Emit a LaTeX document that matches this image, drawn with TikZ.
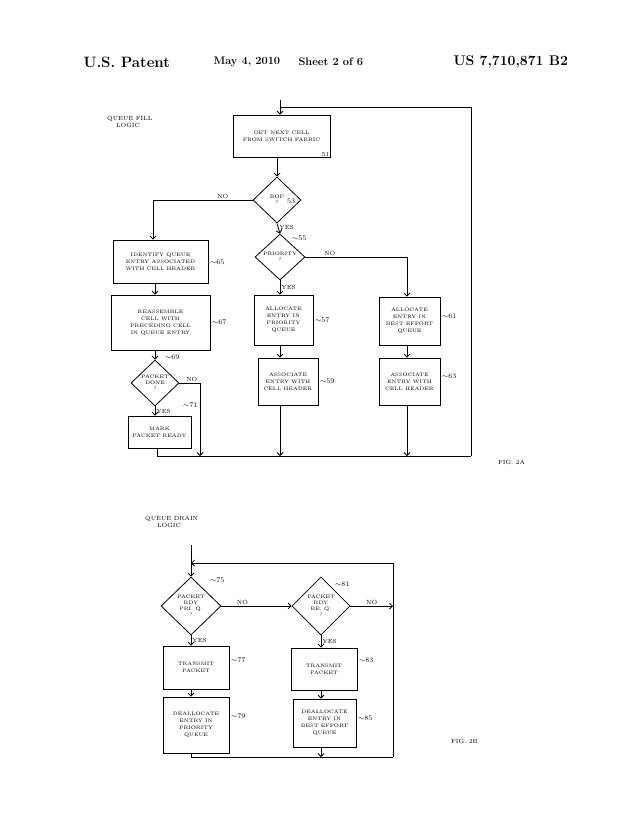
\documentclass[tikz,border=0pt]{standalone}
\usetikzlibrary{shapes.geometric,arrows.meta}
\begin{document}
\begin{tikzpicture}[x=1pt,y=-1pt,
  box/.style={draw,thick,inner sep=1pt,align=center,font=\fontsize{5}{7}\selectfont},
  dia/.style={draw,thick,diamond,inner sep=0pt,align=center,font=\fontsize{5}{6}\selectfont},
  lbl/.style={font=\fontsize{6}{7}\selectfont,inner sep=1pt},
  ref/.style={font=\fontsize{7}{8}\selectfont,inner sep=0pt,anchor=west},
  arr/.style={thick,-{Straight Barb[length=3pt]}},
  ln/.style={thick}]
\useasboundingbox (0,0) rectangle (638,822);
% header
\node[font=\bfseries\fontsize{15}{16}\selectfont,anchor=west] (h1) at (80,62) {U.S. Patent};
\node[font=\bfseries\fontsize{11}{12}\selectfont,anchor=west] (h2) at (210,62) {May 4, 2010};
\node[font=\bfseries\fontsize{11}{12}\selectfont,anchor=west] (h3) at (295,62) {Sheet 2 of 6};
\node[font=\bfseries\fontsize{14}{15}\selectfont,anchor=west] (h4) at (450,62) {US 7,710,871 B2};
% ---------- FIG 2A ----------
\node[lbl,anchor=west,align=left] (t1) at (106,122) {QUEUE FILL\\\hspace{1.5em}LOGIC};
\node[box,minimum width=97,minimum height=42] (b51) at (281.5,136) {GET NEXT CELL\\FROM SWITCH FABRIC};
\node[lbl,anchor=south east] (n51) at (b51.south east) {51};
\node[dia,minimum width=48,minimum height=46] (d53) at (277,200) {BOP\\?};
\node[ref] (n53) at (287,201) {53};
\node[box,minimum width=95,minimum height=43] (b65) at (160.5,261.5) {IDENTIFY QUEUE\\ENTRY ASSOCIATED\\WITH CELL HEADER};
\node[ref] (n65) at (210,262) {$\sim$65};
\node[box,minimum width=99,minimum height=55] (b67) at (160.5,322.5) {REASSEMBLE\\CELL WITH\\PRECEDING CELL\\IN QUEUE ENTRY};
\node[ref] (n67) at (212,322) {$\sim$67};
\node[dia,minimum width=48,minimum height=46] (d69) at (155,383) {PACKET\\DONE\\?};
\node[ref] (n69) at (165,357) {$\sim$69};
\node[box,minimum width=63,minimum height=32] (b71) at (159.5,432) {MARK\\PACKET READY};
\node[ref] (n71) at (183,405) {$\sim$71};
\node[dia,minimum width=50,minimum height=46] (d55) at (280,257) {PRIORITY\\?};
\node[ref] (n55) at (292,238) {$\sim$55};
\node[box,minimum width=59,minimum height=50] (b57) at (283.5,320) {ALLOCATE\\ENTRY IN\\PRIORITY\\QUEUE};
\node[ref] (n57) at (315,320) {$\sim$57};
\node[box,minimum width=60,minimum height=47] (b59) at (288,381.5) {ASSOCIATE\\ENTRY WITH\\CELL HEADER};
\node[ref] (n59) at (320,381) {$\sim$59};
\node[box,minimum width=61,minimum height=48] (b61) at (409.5,321) {ALLOCATE\\ENTRY IN\\BEST EFFORT\\QUEUE};
\node[ref] (n61) at (442,316) {$\sim$61};
\node[box,minimum width=61,minimum height=47] (b63) at (409.5,381.5) {ASSOCIATE\\ENTRY WITH\\CELL HEADER};
\node[ref] (n63) at (442,376) {$\sim$63};
\node[lbl,anchor=west] (f2a) at (497,462) {FIG. 2A};
\coordinate (top) at (280,100);
\coordinate (tr) at (471,107);
\coordinate (br) at (471,456);
\coordinate (bl) at (157,456);
\draw[arr] (top) -- (b51.north -| top);
\draw[ln] (br) -- (tr) -- (280,107);
\draw[arr] (b51.south -| d53) -- (d53.north);
\draw[arr] (d53.west) -| node[lbl,pos=0.15,above] {NO} (b65.north -| 153,0);
\draw[arr] (d53.south) -- node[lbl,right,pos=0.35] {YES} (d55.north);
\draw[arr] (d55.south) -- node[lbl,right,pos=0.5] {YES} (b57.north -| d55);
\draw[arr] (d55.east) -| node[lbl,pos=0.12,above] {NO} (b61.north -| 407,0);
\draw[arr] (b57.south -| d55) -- (b59.north -| d55);
\draw[arr] (b61.south -| 407,0) -- (b63.north -| 407,0);
\draw[arr] (b65.south -| 155,0) -- (b67.north -| 155,0);
\draw[arr] (b67.south -| d69) -- (d69.north);
\draw[arr] (d69.south) -- node[lbl,right] {YES} (b71.north -| d69);
\draw[arr] (d69.east) -| node[lbl,pos=0.3,above] {NO} (200,456);
\draw[arr] (b59.south -| d55) -- (280,456);
\draw[arr] (b63.south -| 407,0) -- (407,456);
\draw[ln] (b71.south -| bl) -- (bl) -- (br);
% ---------- FIG 2B ----------
\node[lbl,anchor=west,align=left] (t2) at (144,522) {QUEUE DRAIN\\\hspace{2em}LOGIC};
\node[dia,minimum width=60,minimum height=58] (d75) at (191,606) {PACKET\\RDY\\PRI. Q.\\?};
\node[ref] (n75) at (210,580) {$\sim$75};
\node[dia,minimum width=58,minimum height=58] (d81) at (321,606) {PACKET\\RDY\\BE. Q.\\?};
\node[ref] (n81) at (335,584) {$\sim$81};
\node[box,minimum width=66,minimum height=43] (b77) at (196,667.5) {TRANSMIT\\PACKET};
\node[ref] (n77) at (231,660) {$\sim$77};
\node[box,minimum width=66,minimum height=56] (b79) at (196,725) {DEALLOCATE\\ENTRY IN\\PRIORITY\\QUEUE};
\node[ref] (n79) at (231,716) {$\sim$79};
\node[box,minimum width=66,minimum height=42] (b83) at (324,669) {TRANSMIT\\PACKET};
\node[ref] (n83) at (359,660) {$\sim$83};
\node[box,minimum width=63,minimum height=48] (b85) at (324.5,723) {DEALLOCATE\\ENTRY IN\\BEST EFFORT\\QUEUE};
\node[ref] (n85) at (358,718) {$\sim$85};
\node[lbl,anchor=west] (f2b) at (450,741) {FIG. 2B};
\coordinate (s2) at (191,545);
\coordinate (lr) at (393,757);
\coordinate (ur) at (393,563);
\coordinate (ll) at (191,757);
\draw[arr] (s2) -- (d75.north);
\draw[arr] (lr) -- (ur) -- (191,563);
\draw[arr] (d75.east) -- node[lbl,above,pos=0.3] {NO} (d81.west);
\draw[arr] (d81.east) -- node[lbl,above] {NO} (393,606);
\draw[arr] (d75.south) -- node[lbl,right] {YES} (b77.north -| d75);
\draw[arr] (d81.south) -- node[lbl,right] {YES} (b83.north -| d81);
\draw[arr] (b77.south -| d75) -- (b79.north -| d75);
\draw[arr] (b83.south -| d81) -- (b85.north -| d81);
\draw[ln] (b79.south -| ll) -- (ll) -- (lr);
\draw[arr] (b85.south -| d81) -- (321,757);
\end{tikzpicture}
\end{document}
